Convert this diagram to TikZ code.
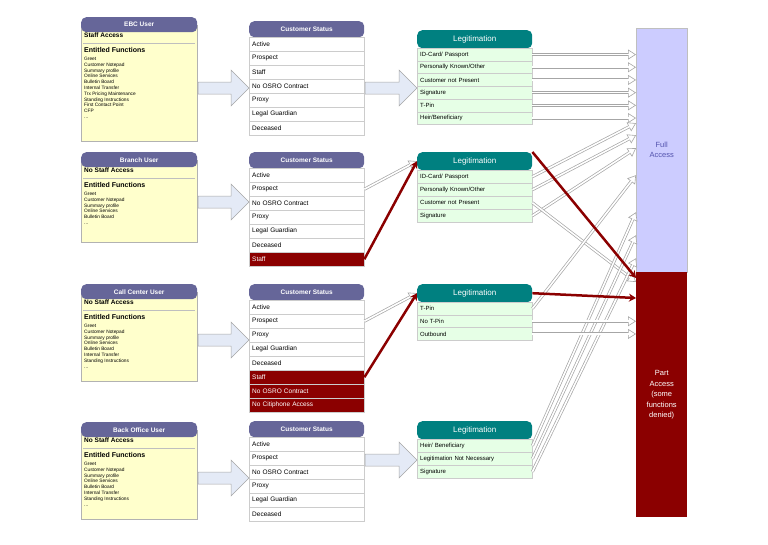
\documentclass[tikz,border=0pt]{standalone}
\usepackage{fontspec}
\setmainfont{Liberation Sans}
\usetikzlibrary{arrows.meta,calc}
\definecolor{hdrblue}{RGB}{102,102,153}
\definecolor{hdrteal}{RGB}{0,128,128}
\definecolor{userbg}{RGB}{255,255,204}
\definecolor{legbg}{RGB}{230,255,230}
\definecolor{darkred}{RGB}{139,0,0}
\definecolor{fullbg}{RGB}{204,204,255}
\definecolor{fatbg}{RGB}{228,234,246}
\tikzset{
  header/.style={anchor=north west, rounded corners=5pt, text=white, font=\bfseries\fontsize{6.5}{7}\selectfont, minimum height=16pt, inner sep=0pt},
  userhdr/.style={header, fill=hdrblue, minimum width=116pt, minimum height=15pt},
  stathdr/.style={header, fill=hdrblue, minimum width=115pt},
  leghdr/.style={header, fill=hdrteal, minimum width=115pt, minimum height=18pt, font=\fontsize{8}{9}\selectfont},
  row/.style={anchor=north west, draw=gray!40, minimum width=115pt, text width=109pt, inner sep=0pt, inner xsep=3pt, align=left, font=\fontsize{6.5}{7}\selectfont},
  legrow/.style={row, fill=legbg, font=\fontsize{6}{7}\selectfont},
  userbody/.style={draw=gray!60, fill=userbg},
  funcs/.style={anchor=north west, inner sep=0pt, align=left, font=\fontsize{4.8}{5.8}\selectfont},
  fatarrow/.style={draw=gray!70, fill=fatbg, line width=0.5pt},
  dbl/.style={draw=gray!70, line width=3pt, -{Triangle[fill=white, length=8pt, width=10pt, line width=0.6pt]},
    postaction={draw=white, line width=1.6pt, shorten >=7pt, -}},
  redline/.style={draw=darkred, line width=2.5pt, -{Stealth[length=7pt, width=8pt]}}
}
\newcommand{\fatarr}[3]{\draw[fatarrow] (#1,#2) ++(0,-6) -- ++({#3-18},0) -- ++(0,-12) -- ++(18,18) -- ++(-18,18) -- ++(0,-12) -- ++({-(#3-18)},0) -- cycle;}
\begin{document}
\begin{tikzpicture}[x=1pt,y=-1pt]
  \useasboundingbox (0,0) rectangle (768,544);
  % user boxes
  \draw[userbody] (81,25) rectangle (197,141);
  \node[userhdr] (ebc) at (81,17) {EBC User};
  \draw[userbody] (81,160) rectangle (197,242);
  \node[userhdr] (branch) at (81,152) {Branch User};
  \draw[userbody] (81,292) rectangle (197,381);
  \node[userhdr] (call) at (81,284) {Call Center User};
  \draw[userbody] (81,430) rectangle (197,519);
  \node[userhdr] (back) at (81,422) {Back Office User};
  \foreach \n/\y/\acc in {ebc/32/Staff Access, branch/167/No Staff Access, call/299/No Staff Access, back/437/No Staff Access}{
    \node[anchor=north west, inner sep=0pt, font=\bfseries\fontsize{6.5}{7}\selectfont] (\n acc) at (84,\y+1) {\acc};
    \draw[gray!50] (83,\y+11) -- (195,\y+11);
    \node[anchor=north west, inner sep=0pt, font=\bfseries\fontsize{7}{8}\selectfont] (\n ent) at (84,\y+15) {Entitled Functions};
  }
  \node[funcs] (ebcf) at (84,57) {Greet\\Customer Notepad\\Summary profile\\Online Services\\Bulletin Board\\Internal Transfer\\Trx Pricing Maintenance\\Standing Instructions\\First Contact Point\\CFP\\...};
  \node[funcs] (branchf) at (84,192) {Greet\\Customer Notepad\\Summary profile\\Online Services\\Bulletin Board\\...};
  \node[funcs] (callf) at (84,324) {Greet\\Customer Notepad\\Summary profile\\Online Services\\Bulletin Board\\Internal Transfer\\Standing Instructions\\...};
  \node[funcs] (backf) at (84,462) {Greet\\Customer Notepad\\Summary profile\\Online Services\\Bulletin Board\\Internal Transfer\\Standing Instructions\\...};
  % customer status
  \node[stathdr] (cs1) at (249,21) {Customer Status};
  \foreach \t [count=\i] in {Active, Prospect, Staff, No OSRO Contract, Proxy, Legal Guardian, Deceased}
    \node[row, fill=white, minimum height=14pt] (cs1r\i) at (249,{37+(\i-1)*14}) {\t};
  \node[stathdr] (cs2) at (249,152) {Customer Status};
  \foreach \t [count=\i] in {Active, Prospect, No OSRO Contract, Proxy, Legal Guardian, Deceased}
    \node[row, fill=white, minimum height=14pt] (cs2r\i) at (249,{168+(\i-1)*14}) {\t};
  \node[row, fill=darkred, text=white, minimum height=14pt] (cs2r7) at (249,252) {Staff};
  \node[stathdr] (cs3) at (249,284) {Customer Status};
  \foreach \t [count=\i] in {Active, Prospect, Proxy, Legal Guardian, Deceased}
    \node[row, fill=white, minimum height=14pt] (cs3r\i) at (249,{300+(\i-1)*14}) {\t};
  \foreach \t [count=\i from 6] in {Staff, No OSRO Contract, No Citiphone Access}
    \node[row, fill=darkred, text=white, minimum height=14pt] (cs3r\i) at (249,{300+(\i-1)*14}) {\t};
  \node[stathdr] (cs4) at (249,421) {Customer Status};
  \foreach \t [count=\i] in {Active, Prospect, No OSRO Contract, Proxy, Legal Guardian, Deceased}
    \node[row, fill=white, minimum height=14pt] (cs4r\i) at (249,{437+(\i-1)*14}) {\t};
  % legitimation
  \node[leghdr] (lg1) at (417,30) {Legitimation};
  \foreach \t [count=\i] in {ID-Card/ Passport, Personally Known/Other, Customer not Present, Signature, T-Pin, Heir/Beneficiary}
    \node[legrow, minimum height=12.7pt] (lg1r\i) at (417,{48+(\i-1)*12.7}) {\t};
  \node[leghdr] (lg2) at (417,152) {Legitimation};
  \foreach \t [count=\i] in {ID-Card/ Passport, Personally Known/Other, Customer not Present, Signature}
    \node[legrow, minimum height=13pt] (lg2r\i) at (417,{170+(\i-1)*13}) {\t};
  \node[leghdr] (lg3) at (417,284) {Legitimation};
  \foreach \t [count=\i] in {T-Pin, No T-Pin, Outbound}
    \node[legrow, minimum height=12.7pt] (lg3r\i) at (417,{302+(\i-1)*12.7}) {\t};
  \node[leghdr] (lg4) at (417,421) {Legitimation};
  \foreach \t [count=\i] in {Heir/ Beneficiary, Legitimation Not Necessary, Signature}
    \node[legrow, minimum height=13pt] (lg4r\i) at (417,{439+(\i-1)*13}) {\t};
  % access
  \node[anchor=north west, draw=gray!50, fill=fullbg, minimum width=51pt, minimum height=244pt, inner sep=0pt, align=center, text=hdrblue!80!blue, font=\fontsize{7.5}{10}\selectfont] (full) at (636,28) {Full\\Access};
  \node[anchor=north west, fill=darkred, minimum width=51pt, minimum height=245pt, inner sep=0pt, align=center, text=white, font=\fontsize{7.5}{10.5}\selectfont] (part) at (636,272) {Part\\Access\\(some\\functions\\denied)};
  % fat arrows
  \fatarr{198}{88}{51}
  \fatarr{198}{202}{51}
  \fatarr{198}{340}{51}
  \fatarr{198}{478}{51}
  \fatarr{365}{88}{52}
  \fatarr{365}{460}{52}
  % connectors
  \foreach \i in {1,...,6}
    \draw[dbl] (lg1r\i.east) -- (lg1r\i.east -| full.west);
  \draw[dbl] (lg2r1.east) -- ($(full.west)+(0,-27)$);
  \draw[dbl] (lg2r2.east) -- ($(full.west)+(0,-15)$);
  \draw[dbl] (lg2r4.east) -- ($(full.west)+(0,-2)$);
  \draw[dbl] (lg2r3.east) -- ($(part.north west)+(0,10)$);
  \draw[dbl] (lg3r1.east) -- ($(full.west)+(0,25)$);
  \draw[dbl] (lg4r1.east) -- ($(full.west)+(0,62)$);
  \draw[dbl] (lg4r2.east) -- ($(full.west)+(0,85)$);
  \draw[dbl] (lg4r3.east) -- ($(full.west)+(0,108)$);
  \draw[dbl] (lg3r2.east) -- (lg3r2.east -| part.west);
  \draw[dbl] (lg3r3.east) -- (lg3r3.east -| part.west);
  \draw[dbl] (cs2r2.east) -- (lg2.west);
  \draw[dbl] (cs3r2.east) -- (lg3.west);
  \draw[redline] (cs2r7.east) -- (lg2.west);
  \draw[redline] (cs3r6.east) -- (lg3.west);
  \draw[redline] (lg2.north east) -- ($(part.north west)+(0,6)$);
  \draw[redline] (lg3.east) -- ($(part.north west)+(0,26)$);
\end{tikzpicture}
\end{document}
